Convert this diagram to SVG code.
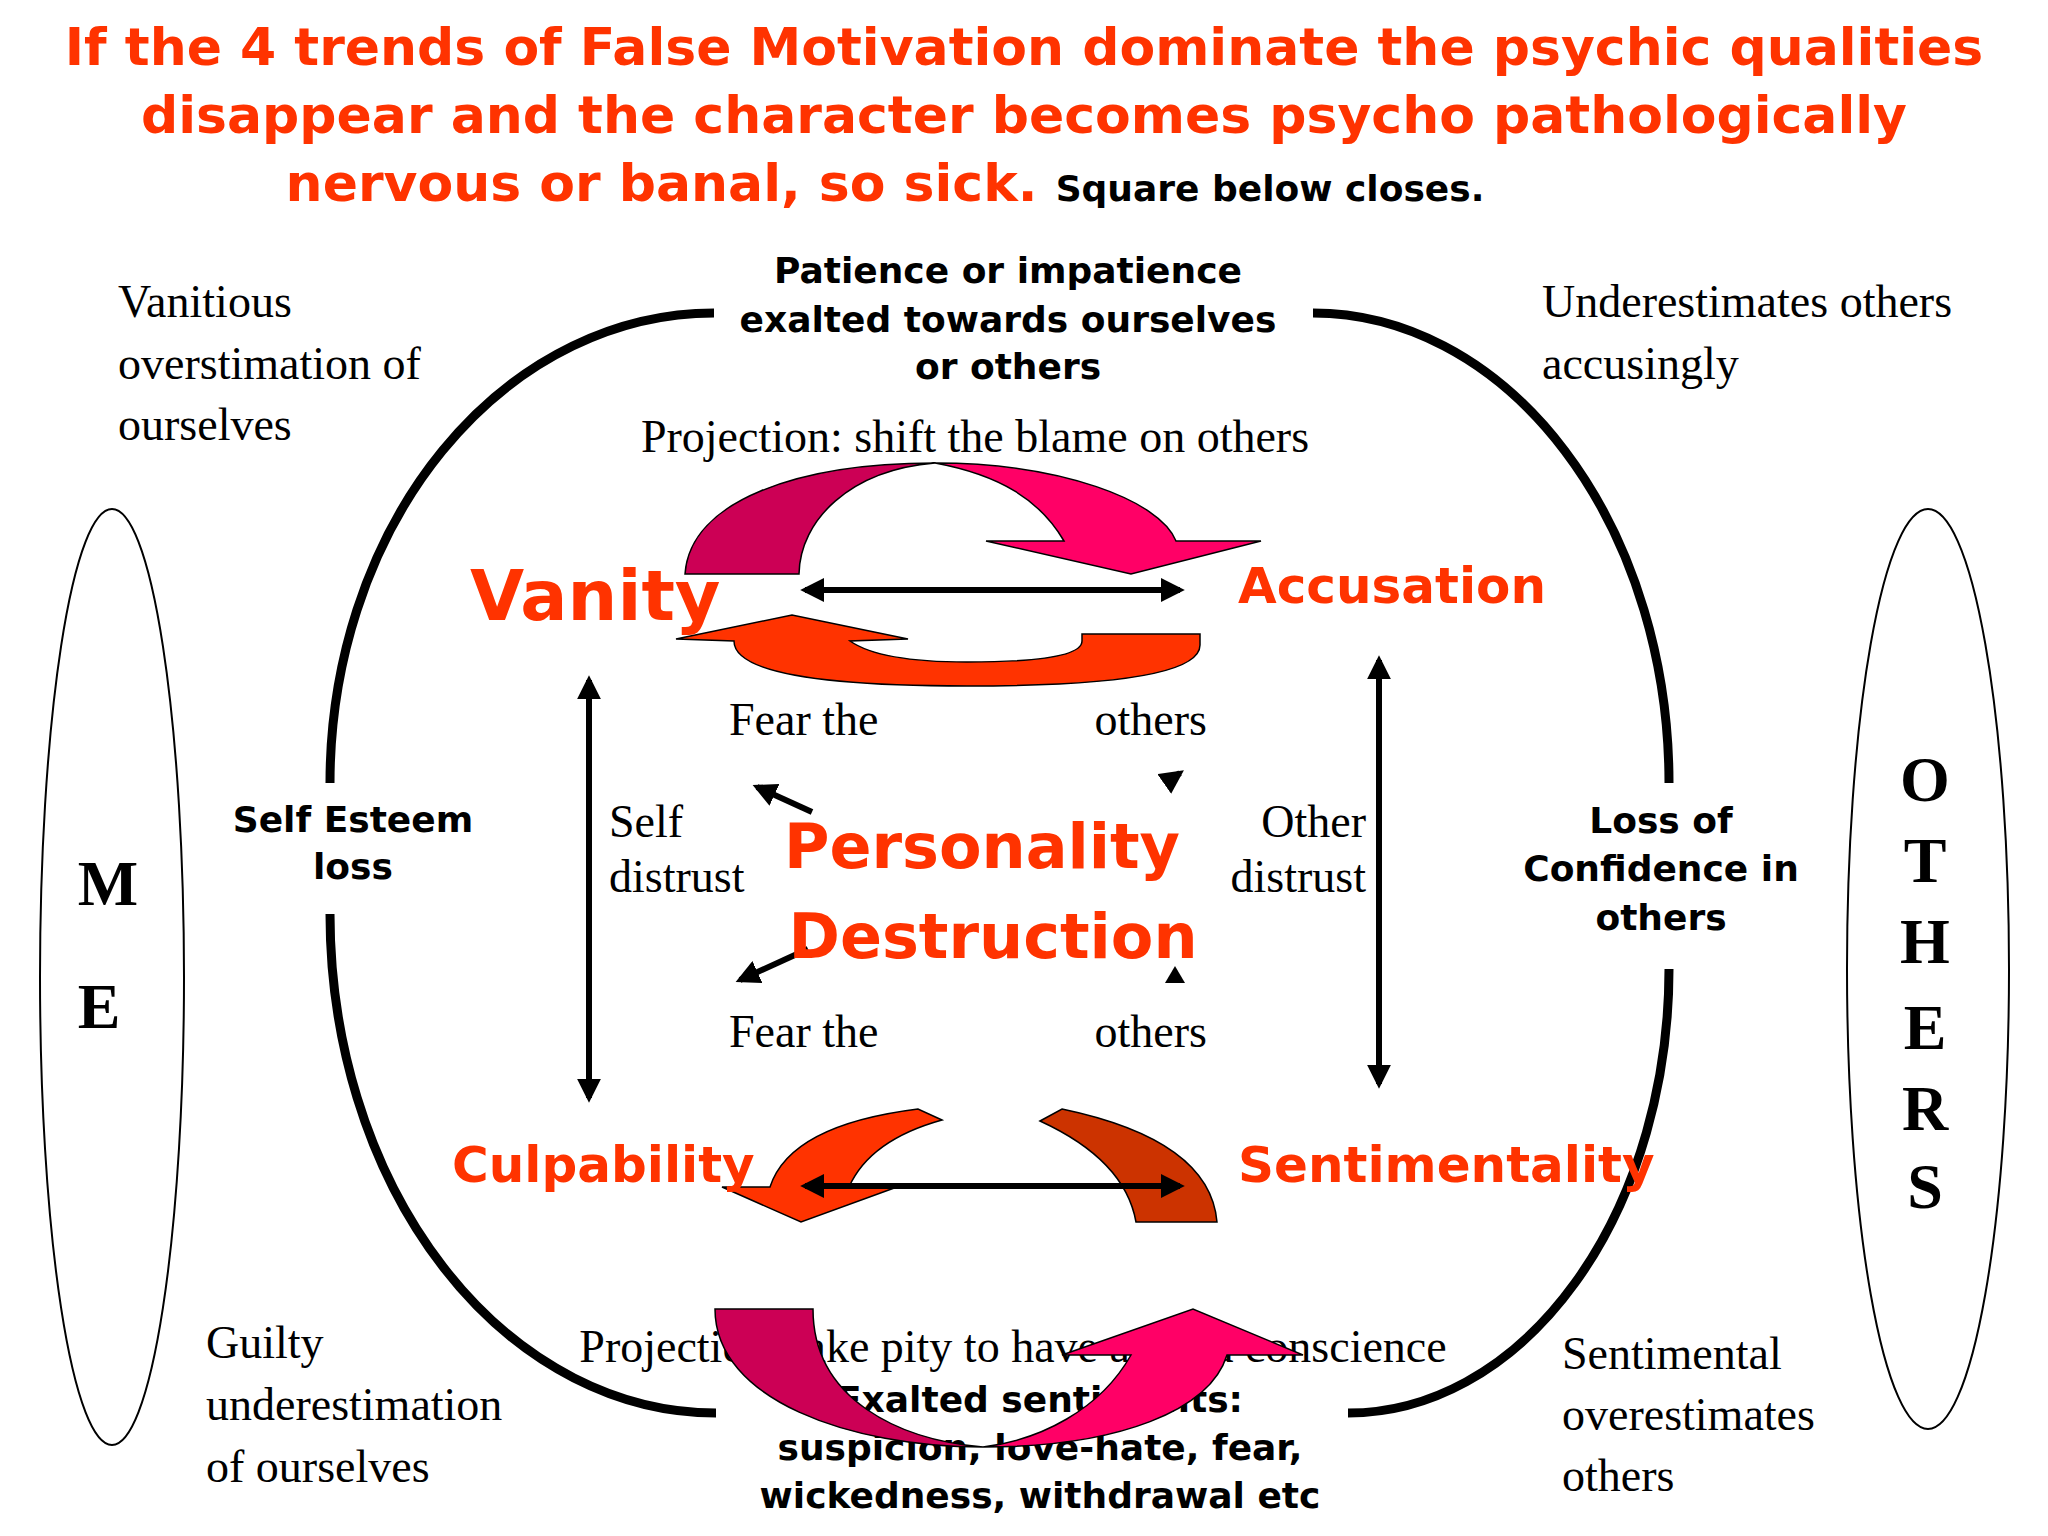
<svg xmlns="http://www.w3.org/2000/svg" width="2048" height="1536" viewBox="0 0 2048 1536">
<defs>
<marker id="ah" viewBox="0 0 10 10" refX="8" refY="5" markerWidth="4" markerHeight="4" orient="auto-start-reverse"><path d="M0,0 L10,5 L0,10 Z" fill="#000"/></marker>
<style>
.t{font-family:"Liberation Sans",sans-serif;font-weight:bold;fill:#ff3300}
.s{font-family:"Liberation Serif",serif;fill:#000;font-size:46px}
.b{font-family:"DejaVu Sans",sans-serif;font-weight:bold;fill:#000;font-size:36px}
.r{font-family:"DejaVu Sans",sans-serif;font-weight:bold;fill:#ff3300}
.ln{stroke:#000;stroke-width:6;fill:none}
.big{stroke:#000;stroke-width:9;fill:none}
.ca{stroke:#000;stroke-width:1.5}
</style>
</defs>
<rect width="2048" height="1536" fill="#fff"/>
<g id="title" class="r" font-size="52" text-anchor="middle">
<text x="1024" y="65">If the 4 trends of False Motivation dominate the psychic qualities</text>
<text x="1024" y="133">disappear and the character becomes psycho pathologically</text>
<text x="885" y="201">nervous or banal, so sick. <tspan font-size="36" fill="#000">Square below closes.</tspan></text>
</g>
<g id="frame">
<path class="big" d="M330,783 A384,470 0 0 1 714,313"/>
<path class="big" d="M1313,313 A356,470 0 0 1 1669,783"/>
<path class="big" d="M1669,969 A321,444 0 0 1 1348,1413"/>
<path class="big" d="M716,1413 A386,499 0 0 1 330,914"/>
</g>
<g id="me"><ellipse cx="112" cy="977" rx="72" ry="468" fill="none" stroke="#000" stroke-width="2"/>
<text x="108" y="905" font-family="Liberation Serif,serif" font-weight="bold" font-size="64" text-anchor="middle">M</text>
<text x="99" y="1028" font-family="Liberation Serif,serif" font-weight="bold" font-size="64" text-anchor="middle">E</text></g>
<g id="others" font-family="Liberation Serif,serif" font-weight="bold" font-size="64" text-anchor="middle"><ellipse cx="1928" cy="969" rx="81" ry="460" fill="none" stroke="#000" stroke-width="2"/>
<text x="1925" y="801">O</text><text x="1925" y="882">T</text><text x="1925" y="963">H</text><text x="1925" y="1049">E</text><text x="1925" y="1130">R</text><text x="1925" y="1208">S</text></g>
<g id="corners" class="s">
<text x="118" y="317">Vanitious</text><text x="118" y="379">overstimation of</text><text x="118" y="440">ourselves</text>
<text x="1542" y="317">Underestimates others</text><text x="1542" y="379">accusingly</text>
<text x="206" y="1358">Guilty</text><text x="206" y="1420">underestimation</text><text x="206" y="1482">of ourselves</text>
<text x="1562" y="1369">Sentimental</text><text x="1562" y="1430">overestimates</text><text x="1562" y="1491">others</text>
</g>
<g id="labels" class="b" text-anchor="middle">
<text x="1008" y="283">Patience or impatience</text><text x="1008" y="332">exalted towards ourselves</text><text x="1008" y="379">or others</text>
<text x="353" y="832">Self Esteem</text><text x="353" y="879">loss</text>
<text x="1661" y="833">Loss of</text><text x="1661" y="881">Confidence in</text><text x="1661" y="930">others</text>
<text x="1040" y="1412">Exalted sentiments:</text><text x="1040" y="1460">suspicion, love-hate, fear,</text><text x="1040" y="1508">wickedness, withdrawal etc</text>
</g>
<g id="serifs" class="s">
<text x="975" y="452" text-anchor="middle">Projection: shift the blame on others</text>
<text x="1013" y="1362" text-anchor="middle">Projection: take pity to have a good conscience</text>
<text x="609" y="837">Self</text><text x="609" y="892">distrust</text>
<text x="1366" y="837" text-anchor="end">Other</text><text x="1366" y="892" text-anchor="end">distrust</text>
<text x="729" y="735">Fear the</text><text x="1207" y="735" text-anchor="end">others</text>
<text x="729" y="1047">Fear the</text><text x="1207" y="1047" text-anchor="end">others</text>
</g>
<g id="curved">
<path class="ca" fill="#cc0055" d="M685,574 C690,500 800,463 935,463 C850,470 800,520 799,574 Z"/>
<path class="ca" fill="#ff0066" d="M935,463 C1060,463 1160,500 1176,541 L1261,541 L1131,574 L986,541 L1064,541 C1040,500 1000,475 935,463 Z"/>
<path class="ca" fill="#ff3300" d="M1200,634 L1200,645 Q1200,686 967,686 Q734,686 734,641 L676,639 L792,615 L908,639 L850,641 Q880,662 967,662 Q1082,662 1082,641 L1082,634 Z"/>
<path class="ca" fill="#ff3300" d="M942,1120 L918,1109 Q790,1125 770,1187 L722,1187 L801,1222 L897,1187 L849,1187 Q870,1140 942,1120 Z"/>
<path class="ca" fill="#cc3300" d="M1040,1121 L1062,1109 Q1210,1140 1217,1222 L1136,1222 Q1125,1160 1040,1121 Z"/>
<path class="ca" fill="#cc0055" d="M715,1309 L813,1309 C813,1400 900,1440 983,1447 C850,1447 715,1400 715,1309 Z"/>
<path class="ca" fill="#ff0066" d="M983,1447 C1120,1447 1210,1410 1227,1355 L1303,1355 L1193,1309 L1062,1355 L1131,1355 C1100,1410 1040,1440 983,1447 Z"/>
</g>
<g id="connectors">
<line class="ln" x1="805" y1="590" x2="1180" y2="590" marker-start="url(#ah)" marker-end="url(#ah)"/>
<line class="ln" x1="805" y1="1186" x2="1180" y2="1186" marker-start="url(#ah)" marker-end="url(#ah)"/>
<line class="ln" x1="589" y1="680" x2="589" y2="1098" marker-start="url(#ah)" marker-end="url(#ah)"/>
<line class="ln" x1="1379" y1="660" x2="1379" y2="1084" marker-start="url(#ah)" marker-end="url(#ah)"/>
<line class="ln" x1="812" y1="812" x2="757" y2="787" marker-end="url(#ah)"/>
<line class="ln" x1="808" y1="949" x2="740" y2="980" marker-end="url(#ah)"/>
<line class="ln" x1="1170" y1="780" x2="1180" y2="773" marker-end="url(#ah)"/>
<path d="M1165,983 L1185,983 L1175,966 Z" fill="#000"/>
</g>
<g id="nodes" class="r">
<text id="vanity" x="470" y="620" font-size="70">Vanity</text>
<text id="accusation" x="1238" y="603" font-size="50">Accusation</text>
<text id="personality" x="982" y="868" font-size="62" text-anchor="middle">Personality</text>
<text id="destruction" x="993" y="958" font-size="62" text-anchor="middle">Destruction</text>
<text id="culpability" x="452" y="1182" font-size="50">Culpability</text>
<text id="sentimentality" x="1238" y="1182" font-size="50">Sentimentality</text>
</g>
</svg>
